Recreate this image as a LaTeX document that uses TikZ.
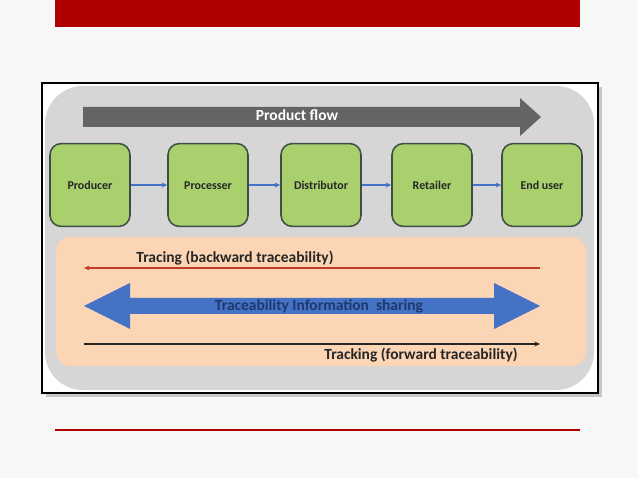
\documentclass[tikz,border=0pt]{standalone}
\usepackage{fontspec}
\setmainfont{Carlito}
\usetikzlibrary{arrows.meta}

\definecolor{slidered}{RGB}{176,0,0}
\definecolor{panelgray}{RGB}{214,214,214}
\definecolor{flowgray}{RGB}{100,100,100}
\definecolor{stagegreen}{RGB}{170,208,110}
\definecolor{stageborder}{RGB}{62,78,68}
\definecolor{linkblue}{RGB}{68,114,196}
\definecolor{peach}{RGB}{251,213,180}
\definecolor{tracered}{RGB}{192,62,40}
\definecolor{sharenavy}{RGB}{31,56,110}

\begin{document}
\begin{tikzpicture}[x=0.025cm,y=-0.025cm,
    stage/.style={draw=stageborder, line width=1.1pt, fill=stagegreen, rounded corners=8pt,
      minimum width=2cm, minimum height=2.07cm, text height=1.6ex, text depth=0.3ex,
      font=\fontsize{8.5}{10}\selectfont\bfseries, text=black!85},
    link/.style={-{Stealth[length=4pt,width=3.5pt]}, draw=linkblue, line width=1pt},
    label/.style={font=\fontsize{11}{13}\selectfont\bfseries, text=black!85,
      text height=1.6ex, text depth=0.4ex}]
    \useasboundingbox (0,0) rectangle (638,478);
    \fill[gray!6] (0,0) rectangle (638,478);

    % slide decoration
    \fill[slidered] (55,0) rectangle (580,27);
    \draw[slidered, line width=1.2pt] (55,430) -- (580,430);

    % picture frame
    \fill[gray!45] (46,87) rectangle (602,397);
    \draw[fill=white, line width=2pt] (42,83) rectangle (598,393);
    \fill[panelgray, rounded corners=27pt] (45,86) rectangle (594,390);

    % product flow
    \fill[flowgray] (83,107) -- (520,107) -- (520,98) -- (541,117) -- (520,136)
      -- (520,127) -- (83,127) -- cycle;
    \node[label, text=white] (flow) at (297,116) {Product flow};

    \node[stage] (producer) at (90,185) {Producer};
    \node[stage] (processer) at (208,185) {Processer};
    \node[stage] (distributor) at (321,185) {Distributor};
    \node[stage] (retailer) at (432,185) {Retailer};
    \node[stage] (enduser) at (542,185) {End user};

    \draw[link] (producer) -- (processer);
    \draw[link] (processer) -- (distributor);
    \draw[link] (distributor) -- (retailer);
    \draw[link] (retailer) -- (enduser);

    % traceability panel
    \fill[peach, rounded corners=10pt] (56,237) rectangle (586,366);

    \coordinate (tracefrom) at (540,268);
    \coordinate (traceto) at (84,268);
    \draw[tracered, line width=1.2pt, -{Stealth[length=4pt,width=3.5pt]}] (tracefrom) -- (traceto);
    \node[label] (tracing) at (235,258) {Tracing (backward traceability)};

    \fill[linkblue] (84,306) -- (130,283) -- (130,298) -- (494,298) -- (494,283) -- (540,306)
      -- (494,329) -- (494,314) -- (130,314) -- (130,329) -- cycle;
    \node[label, text=sharenavy] (sharing) at (319,306) {Traceability Information\ \ sharing};

    \coordinate (trackfrom) at (84,344);
    \coordinate (trackto) at (540,344);
    \draw[black!85, line width=1.2pt, -{Stealth[length=4pt,width=3.5pt]}] (trackfrom) -- (trackto);
    \node[label] (tracking) at (421,355) {Tracking (forward traceability)};
\end{tikzpicture}
\end{document}
